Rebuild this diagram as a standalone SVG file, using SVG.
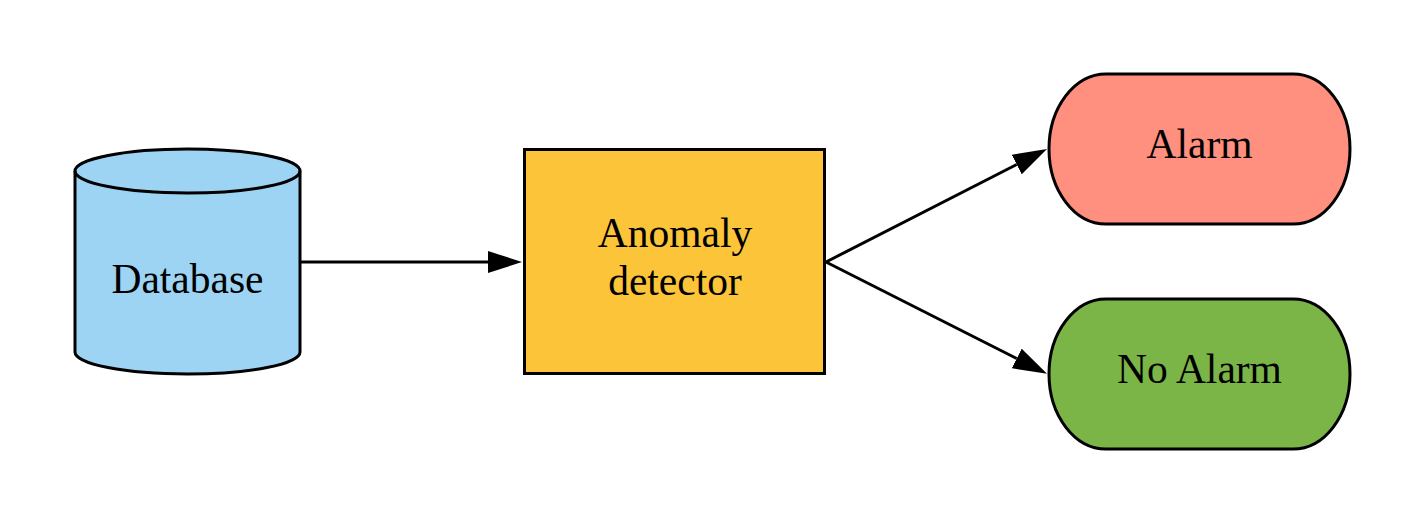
<svg xmlns="http://www.w3.org/2000/svg" width="1425" height="525" viewBox="0 0 1425 525">
<style>
.s{stroke:#000;stroke-width:3}
.t{font-family:"Liberation Serif","Times New Roman",serif;font-size:41.5px;fill:#000;text-anchor:middle}
.c{stroke:#000;stroke-width:3;fill:none}
</style>
<defs>
<marker id="ah" viewBox="0 0 34 22" refX="0" refY="11" markerWidth="34" markerHeight="22" markerUnits="userSpaceOnUse" orient="auto">
<path d="M0,0 L34,11 L0,22 Z" fill="#000"/>
</marker>
</defs>
<rect width="1425" height="525" fill="#fff"/>
<g id="connectors">
<line class="c" x1="300" y1="262" x2="488" y2="262" marker-end="url(#ah)"/>
<line class="c" x1="826" y1="262" x2="1016.7" y2="164.5" marker-end="url(#ah)"/>
<line class="c" x1="826" y1="262" x2="1016.7" y2="358.5" marker-end="url(#ah)"/>
</g>
<g id="database">
<path class="s" fill="#9dd3f3" d="M75,171 L75,352 A112.5,22 0 0 0 300,352 L300,171 A112.5,22 0 0 0 75,171 Z"/>
<path class="s" fill="none" d="M75,171 A112.5,22 0 0 0 300,171"/>
<text class="t" x="187.5" y="293">Database</text>
</g>
<g id="detector">
<rect class="s" fill="#fcc438" x="524.5" y="149.5" width="300" height="224"/>
<text class="t" x="675" y="247">Anomaly</text>
<text class="t" x="675" y="295">detector</text>
</g>
<g id="alarm">
<rect class="s" fill="#ff8f7f" x="1049" y="74" width="301" height="150" rx="57" ry="75"/>
<text class="t" x="1199.5" y="158">Alarm</text>
</g>
<g id="noalarm">
<rect class="s" fill="#7bb547" x="1049" y="299" width="301" height="150" rx="57" ry="75"/>
<text class="t" x="1199.5" y="383">No Alarm</text>
</g>
</svg>
